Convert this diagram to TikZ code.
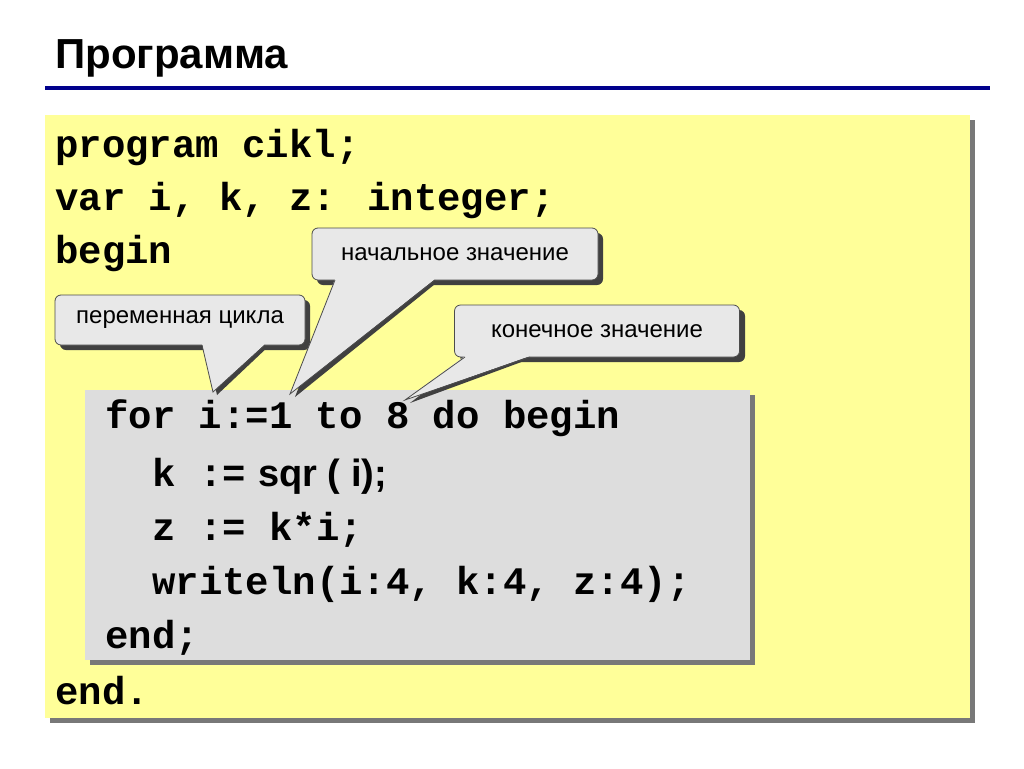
\documentclass[tikz,border=0pt]{standalone}
\usepackage{fontspec}
\setmainfont{Liberation Sans}
\newfontfamily\cour{Liberation Mono}
\definecolor{ylw}{RGB}{255,255,153}
\definecolor{gbox}{RGB}{221,221,221}
\definecolor{cbox}{RGB}{232,232,232}
\definecolor{shd}{RGB}{120,120,120}
\definecolor{navy}{RGB}{0,0,140}
\tikzset{
 code/.style={anchor=base west,inner sep=0pt,font=\cour\bfseries\fontsize{39}{39}\selectfont},
 ctext/.style={font=\fontsize{24}{24}\selectfont},
 callbox/.style={fill=cbox,draw=black!70,line width=0.8pt,rounded corners=6pt},
}
\begin{document}
\begin{tikzpicture}[x=1pt,y=-1pt]
\useasboundingbox (0,0) rectangle (1024,768);
\fill[white] (0,0) rectangle (1024,768);
\node[anchor=base west,inner sep=0pt,font=\bfseries\fontsize{42}{42}\selectfont] (title) at (55,68) {Программа};
\fill[navy] (45,86) rectangle (990,90);
% yellow box
\fill[shd] (50,120) rectangle (975,723);
\fill[ylw] (45,115) rectangle (970,718);
\node[code] (l1) at (55,157) {program cikl;};
\node[code] (l2) at (55,210) {var i, k, z: integer;};
\node[code] (l3) at (55,263) {begin};
% gray box
\fill[shd] (90,395) rectangle (755,665);
\fill[gbox] (85,390) rectangle (750,660);
\node[code] (f1) at (105,428) {for i:=1 to 8 do begin};
\node[code] (f2) at (152,486) {k :=};
\node[anchor=base west,inner sep=0pt,font=\bfseries\fontsize{38}{38}\selectfont] (f2b) at (258,486) {sqr ( i);};
\node[code] (f3) at (152,540) {z := k*i;};
\node[code] (f4) at (152,594) {writeln(i:4, k:4, z:4);};
\node[code] (f5) at (105,648) {end;};
\node[code] (l9) at (55,704) {end.};
% callouts
\coordinate (t1) at (213,392);
\coordinate (t2) at (290,394);
\coordinate (t3) at (405,400);
% shadows
\fill[black!75,rounded corners=6pt] (60,300) rectangle (310,350);
\fill[black!75,rounded corners=6pt] (317,233) rectangle (603,285);
\fill[black!75,rounded corners=6pt] (460,310) rectangle (745,362);
\fill[black!75] (206,345) -- (217,395) -- (270,345) -- cycle;
\fill[black!75] (340,280) -- (295,397) -- (440,280) -- cycle;
\fill[black!75] (470,357) -- (410,403) -- (535,357) -- cycle;
% boxes
\node[callbox,ctext,minimum width=250pt,minimum height=50pt] (c1) at (180,320) {переменная цикла};
\node[callbox,ctext,minimum width=286pt,minimum height=52pt] (c2) at (455,254) {начальное значение};
\node[callbox,ctext,minimum width=285pt,minimum height=52pt] (c3) at (597,331) {конечное значение};
% wedges
\fill[cbox] (202,344) -- (t1) -- (265,344) -- cycle;
\draw[black!70,line width=0.8pt] (202,345) -- (t1) -- (265,345);
\fill[cbox] (335,279) -- (t2) -- (435,279) -- cycle;
\draw[black!70,line width=0.8pt] (335,280) -- (t2) -- (435,280);
\fill[cbox] (465,356) -- (t3) -- (530,356) -- cycle;
\draw[black!70,line width=0.8pt] (465,357) -- (t3) -- (530,357);
\end{tikzpicture}
\end{document}
